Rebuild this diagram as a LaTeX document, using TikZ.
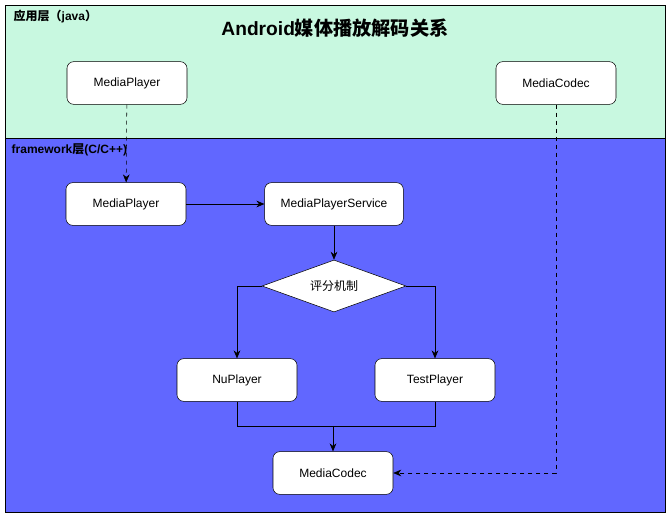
\documentclass[tikz,border=0pt]{standalone}
\usepackage{fontspec}
\setmainfont{Liberation Sans}
\newfontfamily\cjk{Noto Sans CJK SC}
\usetikzlibrary{shapes.geometric,arrows.meta}
\definecolor{applayer}{HTML}{C8F8E0}
\definecolor{fwlayer}{HTML}{6167FF}
\begin{document}
\begin{tikzpicture}
  [x=0.75pt,y=-0.75pt,>={Stealth[length=6pt,width=5pt]},
   every node/.style={font=\small},
   box/.style={draw,fill=white,rounded corners=5pt,minimum width=90pt,minimum height=32pt,inner sep=0pt},
   decide/.style={draw,fill=white,diamond,aspect=2.8,minimum width=108pt,minimum height=39pt,inner sep=0pt}]
  \useasboundingbox (0,0) rectangle (672,520);
  % layers
  \draw[fill=applayer] (5,5) rectangle (665,138);
  \draw[fill=fwlayer] (5,138) rectangle (665,512);
  \node[font=\bfseries\small,anchor=west] (app) at (9,17) {{\cjk 应用层（}java{\cjk ）}};
  \node[font=\bfseries\small,anchor=west] (fw) at (7,150) {framework{\cjk 层}(C/C++)};
  \node[font=\bfseries\Large] (title) at (335,28) {Android{\cjk 媒体播放解码关系}};
  % boxes
  \node[box] (mp1) at (127,83) {MediaPlayer};
  \node[box] (mc1) at (556,83) {MediaCodec};
  \node[box] (mp2) at (126,204) {MediaPlayer};
  \node[box,minimum width=104pt] (mps) at (334,204) {MediaPlayerService};
  \node[decide] (score) at (334,286) {\cjk 评分机制};
  \node[box] (nu) at (237,380) {NuPlayer};
  \node[box] (test) at (435,380) {TestPlayer};
  \node[box] (mc2) at (333,473) {MediaCodec};
  % links
  \draw[->,dashed] (mp1) -- (mp2);
  \draw[->] (mp2) -- (mps);
  \draw[->] (mps) -- (score);
  \draw[->] (score.west) -| (nu.north);
  \draw[->] (score.east) -| (test.north);
  \draw (nu.south) |- (333,426);
  \draw (test.south) |- (333,426);
  \draw[->] (333,426) -- (mc2.north);
  \draw[->,dashed] (mc1.south) |- (mc2.east);
\end{tikzpicture}
\end{document}
